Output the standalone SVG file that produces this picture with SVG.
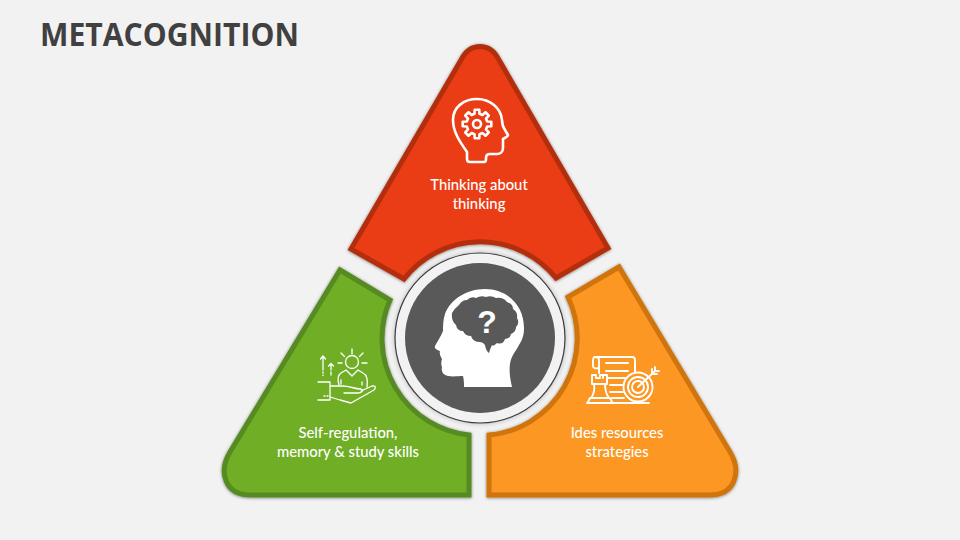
<svg xmlns="http://www.w3.org/2000/svg" width="960" height="540" viewBox="0 0 960 540">
<style>
.seg{stroke-width:5;stroke-linejoin:miter;filter:url(#sh)}
.lbl{font-family:"Lato","Open Sans",sans-serif;font-size:14.8px;font-weight:500;fill:#fff;text-anchor:middle}
.ic{fill:none;stroke:#fff;stroke-linecap:round;stroke-linejoin:round}
.ic3{stroke-width:2.6}
.ic1{stroke-width:1.3}
.ic2{stroke-width:1.9}
</style>
<defs>
<filter id="sh" x="-10%" y="-10%" width="120%" height="120%"><feDropShadow dx="0" dy="0.5" stdDeviation="1.6" flood-color="#000" flood-opacity="0.5"/></filter>
<filter id="sh2" x="-10%" y="-10%" width="120%" height="120%"><feDropShadow dx="0" dy="0" stdDeviation="2.5" flood-color="#000" flood-opacity="0.25"/></filter>
</defs>
<rect width="960" height="540" fill="#f2f2f2"/>
<text id="title" x="40" y="46" font-family="'Open Sans','Liberation Sans',sans-serif" font-weight="700" font-size="33" fill="#404040" textLength="259" lengthAdjust="spacingAndGlyphs">METACOGNITION</text>

<g id="node-thinking">
<path class="seg" fill="#ea3d14" stroke="#b32f0e" d="M351,249 L461,60 C470,42 490,42 499,60 L608,248 L556,278 A97,97 0 0 0 404,279 Z"/>
<g class="ic ic3">
<path d="M467,159 V152 C460,142 453,132 453,120 C453,107 464,99 477,99 C490,99 501,108 502,120 C502,124 503,127 505,130 L508,135 C508,137 504,138 503,139 V148 C503,152 500,154 497,154 H490 C487,154 486,156 486,158 V159 C486,161 485,162 484,162 H470 C468,162 467,161 467,159 Z"/>
<polygon transform="translate(477,124)" points="10.2,-2.5 14.3,-2.3 14.3,2.3 10.2,2.5 8.98,5.44 11.74,8.48 8.48,11.74 5.44,8.98 2.5,10.2 2.3,14.3 -2.3,14.3 -2.5,10.2 -5.44,8.98 -8.48,11.74 -11.74,8.48 -8.98,5.44 -10.2,2.5 -14.3,2.3 -14.3,-2.3 -10.2,-2.5 -8.98,-5.44 -11.74,-8.48 -8.48,-11.74 -5.44,-8.98 -2.5,-10.2 -2.3,-14.3 2.3,-14.3 2.5,-10.2 5.44,-8.98 8.48,-11.74 11.74,-8.48 8.98,-5.44"/>
<circle cx="477" cy="124" r="4"/>
</g>
<text class="lbl" x="479" y="190">Thinking about</text>
<text class="lbl" x="479" y="209">thinking</text>
</g>

<g id="node-self-regulation">
<path class="seg" fill="#6fae27" stroke="#578a21" d="M340,270 L390,300 A97,97 0 0 0 469,435 V495 H250 C225,495 218,472 230,452 Z"/>
<g class="ic ic1">
<circle cx="352" cy="362" r="6.5"/>
<path d="M352,349 V354 M341,353 L344.500,356.500 M363,353 L359.500,356.500 M338,363 H342 M362,363 H367"/>
<path d="M339,385 C337,378 338,375 341,373 L346,370 L352,376 L358,370 L363,373 C367,375 368,380 367,387"/>
<path d="M341,384 V380 M362,385 V382"/>
<path d="M318,382 H330 V400 H318 M330,386 H343 C350,386 354,389 361,389 C364,390 362,393 358,393 H344"/>
<path d="M361,391 L372,386 C376,385 376,388 374,390 L351,403 L340,400 L330,397"/>
<path d="M323,370 V356 M320.500,359 L323,356 L325.500,359 M331,370 V364 M328.500,366 L331,363.500 L333.500,366 M323,372 V373 M331,372 V375 M323,375 V375.500"/>
<path d="M324,396 H325 M327,396 H328"/>
</g>
<text class="lbl" x="348" y="438">Self-regulation,</text>
<text class="lbl" x="348" y="457">memory &amp; study skills</text>
</g>

<g id="node-resources">
<path class="seg" fill="#fb9724" stroke="#d07507" d="M619,267 L568,297 A97,97 0 0 1 489,435 V495 H710 C735,495 742,472 730,452 Z"/>
<g class="ic ic2">
<path d="M599,373 V360 C599,358 597,357 595,357 H632 C634,357 635,358 635,360 V372 M595,357 C593,357 593,359 593,361 V366 C593,368 595,369 599,368"/>
<path d="M606,363 H628 M606,371 H628"/>
<path d="M592,384 V375 H596 V378 H600 V375 H603 V378 V375 H607 V384 Z M594,384 C595,390 594,394 591,398 H609 C606,394 605,390 605,384 M590,398 L587.500,403 H612.500 L610,398"/>
<path d="M608,378 H625 M610,385 H622 M610,392 H623 M612,398 H624"/>
<path d="M587,403 H649"/>
<circle cx="638" cy="387" r="14.500"/><circle cx="638" cy="387" r="10"/><circle cx="638" cy="387" r="6"/>
<path d="M638,387 L654,372 M652,369 V374 H657 M655,367 V371 L659,371"/>
</g>
<text class="lbl" x="617" y="438">Ides resources</text>
<text class="lbl" x="617" y="457">strategies</text>
</g>

<g id="node-center">
<circle cx="480" cy="338" r="85" fill="#f2f2f2" stroke="#3a3a3a" stroke-width="1.200" filter="url(#sh2)"/>
<circle cx="480" cy="338" r="75" fill="#595959"/>
<path fill="#fff" d="M464,387 H512 C510,378 509,372 510,364 C511,356 516,351 519,345 C523,339 524,334 524,328 C524,305 507,289 485,289 C466,289 450,300 445,314 C443,320 443,326 443,331 C441,336 437,342 435,346 C434,349 438,350 440,351 C439,354 441,357 442,359 C441,362 441,365 442,367 C441,371 443,375 448,376 C453,377 459,376 463,376 C464,380 464,384 464,387 Z"/>
<path fill="#595959" d="M452,313 Q455,308 459,305 Q462,300 467,300 Q471,296 476,298 Q481,295 486,297 Q491,295 496,298 Q503,297 507,302 Q513,304 513,309 Q518,312 517,318 Q520,323 516,327 Q516,332 511,334 Q510,339 505,339 Q503,345 497,343 Q493,347 492,345 Q490,349 489,353 Q486,351 485,345 Q483,342 480,342 Q473,342 471,336 Q465,336 463,331 Q457,331 456,325 Q451,321 452,313 Z"/>
<text x="487" y="333" font-family="'Liberation Sans',sans-serif" font-weight="700" font-size="32" fill="#fff" text-anchor="middle">?</text>
</g>
</svg>
